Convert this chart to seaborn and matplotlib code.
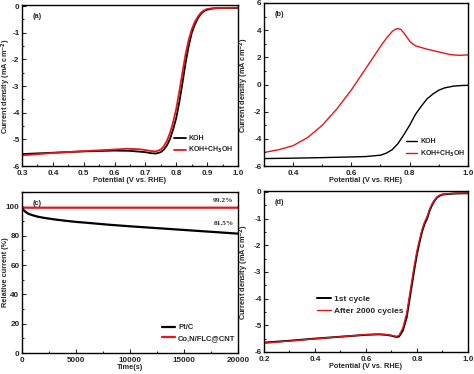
import numpy as np
import pandas as pd
import matplotlib
matplotlib.use("Agg")
import matplotlib.pyplot as plt
import seaborn as sns
from matplotlib.ticker import MultipleLocator

# (a) ORR polarisation, KOH vs KOH + methanol
a_koh_v = [0.30, 0.40, 0.50, 0.60, 0.65, 0.70, 0.72, 0.735, 0.75, 0.76, 0.77, 0.78, 0.79, 0.80,
           0.81, 0.82, 0.83, 0.84, 0.85, 0.86, 0.87, 0.88, 0.89, 0.90, 0.92, 0.95, 1.00]
a_koh_j = [-5.55, -5.50, -5.45, -5.42, -5.43, -5.48, -5.52, -5.53, -5.48, -5.38, -5.22, -4.98, -4.62, -4.20,
           -3.60, -2.90, -2.15, -1.52, -1.02, -0.70, -0.46, -0.29, -0.19, -0.14, -0.09, -0.07, -0.07]
a_meoh_v = [0.30, 0.40, 0.50, 0.60, 0.64, 0.68, 0.70, 0.72, 0.735, 0.75, 0.76, 0.77, 0.78, 0.79,
            0.80, 0.81, 0.82, 0.83, 0.84, 0.85, 0.86, 0.87, 0.88, 0.89, 0.90, 0.92, 0.95, 1.00]
a_meoh_j = [-5.60, -5.51, -5.44, -5.38, -5.35, -5.37, -5.40, -5.44, -5.45, -5.38, -5.25, -5.05, -4.75, -4.35,
            -3.85, -3.20, -2.50, -1.82, -1.28, -0.88, -0.60, -0.40, -0.25, -0.16, -0.11, -0.08, -0.07, -0.06]

# (b) same, wider current range
b_koh_v = [0.30, 0.40, 0.50, 0.60, 0.65, 0.70, 0.72, 0.74, 0.76, 0.78, 0.80, 0.82, 0.84, 0.86,
           0.88, 0.90, 0.92, 0.95, 0.98, 1.00]
b_koh_j = [-5.45, -5.42, -5.38, -5.33, -5.30, -5.20, -5.05, -4.80, -4.35, -3.70, -3.00, -2.20, -1.60, -1.05,
           -0.70, -0.42, -0.25, -0.12, -0.07, -0.06]
b_meoh_v = [0.30, 0.35, 0.40, 0.45, 0.50, 0.55, 0.60, 0.65, 0.70, 0.72, 0.74, 0.75, 0.76, 0.77,
            0.78, 0.79, 0.80, 0.81, 0.82, 0.84, 0.86, 0.90, 0.94, 0.97, 1.00]
b_meoh_j = [-5.00, -4.80, -4.50, -3.90, -3.00, -1.80, -0.40, 1.20, 2.80, 3.40, 3.90, 4.05, 4.12, 4.05,
            3.80, 3.50, 3.20, 3.00, 2.85, 2.72, 2.60, 2.40, 2.20, 2.15, 2.18]

# (c) chronoamperometry
c_time = [0, 100, 300, 600, 1000, 1500, 2000, 3000, 4000, 5000, 6000, 8000,
          10000, 12000, 14000, 16000, 18000, 20000]
c_ptc = [100, 98.0, 96.5, 95.0, 94.0, 93.0, 92.3, 91.2, 90.3, 89.5, 88.9, 87.6,
         86.5, 85.5, 84.5, 83.5, 82.5, 81.5]
c_cat = [100, 99.4, 99.2, 99.2, 99.2, 99.2, 99.2, 99.2, 99.2, 99.2, 99.2, 99.2,
         99.2, 99.2, 99.2, 99.2, 99.2, 99.2]

# (d) durability, 1st cycle vs after 2000 cycles
d_first_v = [0.20, 0.30, 0.40, 0.50, 0.60, 0.65, 0.68, 0.70, 0.72, 0.73, 0.745, 0.76, 0.77, 0.78,
             0.79, 0.80, 0.81, 0.82, 0.83, 0.84, 0.85, 0.86, 0.87, 0.88, 0.89, 0.90, 0.92, 0.95, 1.00]
d_first_j = [-5.65, -5.58, -5.50, -5.43, -5.36, -5.34, -5.36, -5.39, -5.44, -5.42, -5.20, -4.70, -4.10, -3.50,
             -2.90, -2.35, -1.90, -1.50, -1.20, -1.00, -0.70, -0.48, -0.32, -0.20, -0.14, -0.10, -0.08, -0.06, -0.05]
d_after_v = [0.20, 0.30, 0.40, 0.50, 0.60, 0.65, 0.68, 0.70, 0.72, 0.73, 0.745, 0.76, 0.77, 0.78,
             0.79, 0.80, 0.81, 0.82, 0.83, 0.84, 0.85, 0.86, 0.87, 0.88, 0.89, 0.90, 0.92, 0.95, 1.00]
d_after_j = [-5.67, -5.59, -5.51, -5.43, -5.35, -5.33, -5.35, -5.38, -5.42, -5.38, -5.10, -4.55, -3.95, -3.35,
             -2.75, -2.22, -1.80, -1.42, -1.13, -0.93, -0.65, -0.44, -0.29, -0.18, -0.12, -0.09, -0.07, -0.05, -0.04]

sns.set_style("ticks")
plt.rcParams["font.family"] = ["Liberation Sans", "DejaVu Sans"]
plt.rcParams["font.weight"] = "bold"
plt.rcParams["axes.labelweight"] = "bold"
plt.rcParams["mathtext.default"] = "bf"
plt.rcParams["axes.unicode_minus"] = False
plt.rcParams["axes.linewidth"] = 1.0
plt.rcParams["axes.edgecolor"] = "black"

TFS = 5.9   # tick labels
LFS = 5.3   # axis labels
RED = "#e8141c"
jlabel = r"Current density (mA cm$^{-2}$)"
vlabel = "Potential (V vs. RHE)"

fig = plt.figure(figsize=(4.74, 3.74), dpi=100)
ax_a = fig.add_axes([0.0464, 0.556, 0.4556, 0.430])
ax_b = fig.add_axes([0.557, 0.556, 0.430, 0.436])
ax_c = fig.add_axes([0.0464, 0.056, 0.4556, 0.431])
ax_d = fig.add_axes([0.557, 0.059, 0.430, 0.430])


def style(ax, xmin, xmax, ymin, ymax, xmaj, xmin_step, ymaj, ymin_step):
    ax.set_xlim(xmin, xmax)
    ax.set_ylim(ymin, ymax)
    ax.xaxis.set_major_locator(MultipleLocator(xmaj))
    ax.xaxis.set_minor_locator(MultipleLocator(xmin_step))
    ax.yaxis.set_major_locator(MultipleLocator(ymaj))
    ax.yaxis.set_minor_locator(MultipleLocator(ymin_step))
    ax.tick_params(which="both", direction="in", top=False, right=False,
                   labelsize=TFS, pad=1.8, width=0.8)
    ax.tick_params(axis="x", which="both", pad=2.8)
    ax.tick_params(which="major", length=3)
    ax.tick_params(which="minor", length=1.5)
    for lab in ax.get_xticklabels() + ax.get_yticklabels():
        lab.set_fontweight("bold")
    ax.xaxis.labelpad = 0.2


def leg(ax, anchor, size):
    ax.legend(loc="lower right", bbox_to_anchor=anchor, frameon=False,
              handlelength=1.7, handletextpad=0.4,
              labelspacing=0.45, borderaxespad=0.2,
              prop={"size": size, "weight": "bold"})


# (a)
sns.lineplot(x=a_koh_v, y=a_koh_j, ax=ax_a, color="black", lw=1.3, sort=False,
             estimator=None, label="KOH")
sns.lineplot(x=a_meoh_v, y=a_meoh_j, ax=ax_a, color=RED, lw=1.3, sort=False,
             estimator=None, label=r"KOH+CH$_3$OH")
style(ax_a, 0.3, 1.0, -6, 0.03, 0.1, 0.05, 1, 0.5)
ax_a.set_xticks(np.arange(0.3, 1.01, 0.1))
ax_a.set_xticklabels(["0.3", "0.4", "0.5", "0.6", "0.7", "0.8", "0.9", "1.0"], fontweight="bold")
ax_a.set_xlabel(vlabel, fontsize=LFS)
ax_a.set_ylabel(jlabel, fontsize=LFS)
ax_a.yaxis.set_label_coords(-0.040, 0.5)
ax_a.text(0.05, 0.93, "(a)", transform=ax_a.transAxes, fontsize=LFS, fontweight="bold", va="center")
leg(ax_a, (1.0, 0.04), 5.0)

# (b)
sns.lineplot(x=b_koh_v, y=b_koh_j, ax=ax_b, color="black", lw=1.0, sort=False,
             estimator=None, label="KOH")
sns.lineplot(x=b_meoh_v, y=b_meoh_j, ax=ax_b, color=RED, lw=1.0, sort=False,
             estimator=None, label=r"KOH+CH$_3$OH")
style(ax_b, 0.3, 1.0, -6, 6, 0.2, 0.1, 2, 1)
ax_b.set_xlabel(vlabel, fontsize=LFS)
ax_b.set_ylabel(jlabel, fontsize=LFS)
ax_b.yaxis.set_label_coords(-0.062, 0.5)
ax_b.text(0.05, 0.93, "(b)", transform=ax_b.transAxes, fontsize=LFS, fontweight="bold", va="center")
leg(ax_b, (1.01, 0.02), 5.0)

# (c)
sns.lineplot(x=c_time, y=c_ptc, ax=ax_c, color="black", lw=1.6, sort=False,
             estimator=None, label="Pt/C")
sns.lineplot(x=c_time, y=c_cat, ax=ax_c, color=RED, lw=1.6, sort=False,
             estimator=None, label="Co,N/FLC@CNT")
style(ax_c, 0, 20000, 0, 110, 5000, 2500, 20, 10)
ax_c.set_xlabel("Time(s)", fontsize=LFS)
ax_c.set_ylabel("Relative current (%)", fontsize=LFS)
ax_c.yaxis.set_label_coords(-0.062, 0.5)
ax_c.text(0.05, 0.93, "(c)", transform=ax_c.transAxes, fontsize=LFS, fontweight="bold", va="center")
ax_c.text(19600, 104, "99.2%", fontsize=LFS, family="Liberation Serif", fontweight="bold", ha="right", va="center")
ax_c.text(19600, 88.5, "81.5%", fontsize=LFS, family="Liberation Serif", fontweight="bold", ha="right", va="center")
leg(ax_c, (1.01, 0.04), 5.5)

# (d)
sns.lineplot(x=d_first_v, y=d_first_j, ax=ax_d, color="black", lw=1.4, sort=False,
             estimator=None, label="1st cycle")
sns.lineplot(x=d_after_v, y=d_after_j, ax=ax_d, color=RED, lw=1.0, sort=False,
             estimator=None, label="After 2000 cycles")
style(ax_d, 0.2, 1.0, -6, 0.03, 0.2, 0.1, 1, 0.5)
ax_d.set_xlabel(vlabel, fontsize=LFS)
ax_d.set_ylabel(jlabel, fontsize=LFS)
ax_d.yaxis.set_label_coords(-0.062, 0.5)
ax_d.text(0.05, 0.93, "(d)", transform=ax_d.transAxes, fontsize=LFS, fontweight="bold", va="center")
leg(ax_d, (0.71, 0.2), 6.0)

fig.savefig("out.png", dpi=100)
